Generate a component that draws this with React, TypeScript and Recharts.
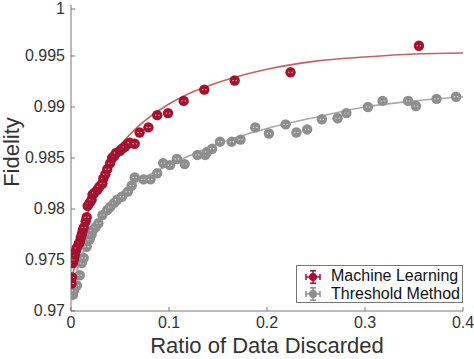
import React from 'react';
import {
  ComposedChart,
  Scatter,
  Line,
  XAxis,
  YAxis,
} from 'recharts';

// Machine Learning samples (ratio discarded, fidelity)
const mlRatio = [
  0.0005, 0.001, 0.002, 0.003, 0.004, 0.005, 0.006, 0.008, 0.009, 0.01, 0.011, 0.012, 0.013, 0.015, 0.016,
  0.017, 0.019, 0.021, 0.022, 0.024, 0.027, 0.029, 0.032, 0.033, 0.035, 0.037, 0.04, 0.042, 0.044, 0.046,
  0.05, 0.052, 0.055, 0.058, 0.06, 0.065, 0.07, 0.079, 0.088, 0.099, 0.115, 0.136, 0.167, 0.224, 0.355,
];
const mlFidelity = [
  0.9727, 0.9733, 0.9747, 0.9751, 0.9755, 0.9759, 0.9762, 0.9766, 0.9768, 0.9772, 0.9775, 0.9779, 0.9782, 0.9788, 0.9792,
  0.9803, 0.9806, 0.9809, 0.9814, 0.9816, 0.9819, 0.9822, 0.9825, 0.983, 0.9834, 0.9839, 0.9845, 0.985, 0.9852, 0.9855,
  0.9857, 0.9859, 0.9861, 0.9864, 0.9865, 0.9864, 0.9875, 0.988, 0.9892, 0.9894, 0.9906, 0.9917, 0.9926, 0.9934, 0.996,
];

// Threshold Method samples
const thRatio = [
  0.002, 0.003, 0.006, 0.009, 0.011, 0.013, 0.016, 0.019, 0.021, 0.022, 0.025, 0.028, 0.032, 0.037, 0.04, 0.044,
  0.047, 0.052, 0.058, 0.062, 0.065, 0.074, 0.081, 0.088, 0.094, 0.101, 0.108, 0.116, 0.129, 0.137, 0.139, 0.144,
  0.152, 0.164, 0.173, 0.188, 0.202, 0.219, 0.23, 0.241, 0.256, 0.272, 0.281, 0.303, 0.318, 0.344, 0.352, 0.373, 0.393,
];
const thFidelity = [
  0.9716, 0.972, 0.9725, 0.9735, 0.9747, 0.9752, 0.9763, 0.977, 0.9775, 0.9779, 0.9782, 0.9786, 0.9794, 0.9799, 0.9802, 0.9806,
  0.9809, 0.9812, 0.9817, 0.9823, 0.9831, 0.9829, 0.9829, 0.9835, 0.9845, 0.9843, 0.9849, 0.9844, 0.9853, 0.9853, 0.9856, 0.9859,
  0.9866, 0.9866, 0.9868, 0.988, 0.9874, 0.9883, 0.9875, 0.9878, 0.9888, 0.9889, 0.9894, 0.99, 0.9906, 0.9906, 0.9901, 0.9908, 0.991,
];

// fitted curves
const mlFitX = [0, 0.01, 0.02, 0.03, 0.04, 0.05, 0.06, 0.08, 0.1, 0.12, 0.15, 0.2, 0.25, 0.3, 0.35, 0.4];
const mlFitY = [0.9728, 0.977, 0.9805, 0.983, 0.9848, 0.9862, 0.9873, 0.989, 0.9903, 0.9913, 0.9924, 0.9937, 0.9945, 0.9949, 0.9952, 0.9953];
const thFitX = [0, 0.01, 0.02, 0.03, 0.05, 0.075, 0.1, 0.15, 0.2, 0.25, 0.3, 0.35, 0.4];
const thFitY = [0.9718, 0.9752, 0.9776, 0.9793, 0.9815, 0.9831, 0.9843, 0.9864, 0.9879, 0.989, 0.99, 0.9906, 0.991];

const xTicks = [0, 0.1, 0.2, 0.3, 0.4];
const yTicks = [0.97, 0.975, 0.98, 0.985, 0.99, 0.995, 1];

const RED = '#a3122f';
const GRAY = '#8e8e8e';
const RED_LINE = '#c8605e';
const GRAY_LINE = '#a9a9a9';
const AXIS = '#777';
const TEXT = '#333';
const FONT = '"Liberation Sans", Arial, sans-serif';

const zip = (xs: number[], ys: number[]) => xs.map((x, i) => ({ x, y: ys[i] }));
const mlData = zip(mlRatio, mlFidelity);
const thData = zip(thRatio, thFidelity);
const mlFit = zip(mlFitX, mlFitY);
const thFit = zip(thFitX, thFitY);

const fmt = (v: number) => String(+v.toFixed(3));

const Marker = (color: string) => (props: any) => {
  const { cx, cy } = props;
  if (cx == null || cy == null) return <g />;
  return (
    <g>
      <circle cx={cx} cy={cy} r={5.2} fill={color} />
      <circle cx={cx - 1.6} cy={cy} r={0.7} fill="#fff" opacity={0.7} />
      <circle cx={cx + 1.6} cy={cy} r={0.7} fill="#fff" opacity={0.7} />
    </g>
  );
};

const BottomTick = (props: any) => {
  const { x, y, payload } = props;
  const base = y - 6;
  return (
    <g>
      <line x1={x} x2={x} y1={base} y2={base - 4} stroke={AXIS} />
      <text x={x} y={y} dy={11} textAnchor="middle" fontSize={16} fill={TEXT} fontFamily={FONT}>
        {fmt(payload.value)}
      </text>
    </g>
  );
};

const LeftTick = (props: any) => {
  const { x, y, payload } = props;
  const base = x + 6;
  return (
    <g>
      <line x1={base} x2={base + 4} y1={y} y2={y} stroke={AXIS} />
      <text x={x} y={y} dy={5} textAnchor="end" fontSize={16} fill={TEXT} fontFamily={FONT}>
        {fmt(payload.value)}
      </text>
    </g>
  );
};

const TopTick = (props: any) => {
  const { x, y } = props;
  return <line x1={x} x2={x} y1={y} y2={y + 4} stroke={AXIS} />;
};

const RightTick = (props: any) => {
  const { x, y } = props;
  return <line x1={x} x2={x - 4} y1={y} y2={y} stroke={AXIS} />;
};

const LegendIcon = ({ color }: { color: string }) => (
  <svg width={18} height={14} style={{ verticalAlign: 'middle' }}>
    <line x1={2} x2={16} y1={7} y2={7} stroke={color} strokeWidth={1.5} />
    <line x1={9} x2={9} y1={0} y2={14} stroke={color} strokeWidth={1.5} />
    <line x1={2} x2={2} y1={4} y2={10} stroke={color} strokeWidth={1.5} />
    <line x1={16} x2={16} y1={4} y2={10} stroke={color} strokeWidth={1.5} />
    <line x1={6} x2={12} y1={0.8} y2={0.8} stroke={color} strokeWidth={1.5} />
    <line x1={6} x2={12} y1={13.2} y2={13.2} stroke={color} strokeWidth={1.5} />
    <circle cx={9} cy={7} r={4} fill={color} />
  </svg>
);

const legendItems = [
  { label: 'Machine Learning', color: RED },
  { label: 'Threshold Method', color: GRAY },
];

export default function App() {
  return (
    <div style={{ position: 'absolute', left: 0, top: 0, width: 474, height: 359, background: '#fff', overflow: 'hidden' }}>
      <ComposedChart width={474} height={359} margin={{ top: 5, right: 11, bottom: 0, left: 0 }}>
        <XAxis
          xAxisId="b"
          type="number"
          dataKey="x"
          domain={[0, 0.4]}
          ticks={xTicks}
          height={48}
          tickSize={0}
          tickMargin={6}
          tickLine={false}
          tick={<BottomTick />}
          stroke={AXIS}
          allowDataOverflow
        />
        <XAxis
          xAxisId="t"
          orientation="top"
          type="number"
          dataKey="x"
          domain={[0, 0.4]}
          ticks={xTicks}
          height={0}
          tickSize={0}
          tickMargin={0}
          tickLine={false}
          tick={<TopTick />}
          stroke={AXIS}
        />
        <YAxis
          yAxisId="l"
          type="number"
          dataKey="y"
          domain={[0.97, 1]}
          ticks={yTicks}
          width={71}
          tickSize={0}
          tickMargin={6}
          tickLine={false}
          tick={<LeftTick />}
          stroke={AXIS}
          allowDataOverflow
        />
        <YAxis
          yAxisId="r"
          orientation="right"
          type="number"
          dataKey="y"
          domain={[0.97, 1]}
          ticks={yTicks}
          width={0}
          tickSize={0}
          tickMargin={0}
          tickLine={false}
          tick={<RightTick />}
          stroke={AXIS}
        />
        <Line
          xAxisId="b"
          yAxisId="l"
          data={thFit}
          dataKey="y"
          type="monotone"
          stroke={GRAY_LINE}
          strokeWidth={1.6}
          dot={false}
          isAnimationActive={false}
        />
        <Line
          xAxisId="b"
          yAxisId="l"
          data={mlFit}
          dataKey="y"
          type="monotone"
          stroke={RED_LINE}
          strokeWidth={1.6}
          dot={false}
          isAnimationActive={false}
        />
        <Scatter
          xAxisId="b"
          yAxisId="l"
          name="Threshold Method"
          data={thData}
          shape={Marker(GRAY)}
          isAnimationActive={false}
        />
        <Scatter
          xAxisId="b"
          yAxisId="l"
          name="Machine Learning"
          data={mlData}
          shape={Marker(RED)}
          isAnimationActive={false}
        />
      </ComposedChart>

      {/* legend box, bottom right inside the axes */}
      <div
        style={{
          position: 'absolute',
          left: 296,
          top: 265,
          width: 167,
          height: 38,
          boxSizing: 'border-box',
          border: `1px solid ${AXIS}`,
          background: '#fff',
          padding: '1px 0 0 7px',
          fontFamily: FONT,
          fontSize: 16,
          color: '#111',
          lineHeight: '17.5px',
        }}
      >
        {legendItems.map(it => (
          <div key={it.label} style={{ whiteSpace: 'nowrap' }}>
            <LegendIcon color={it.color} />
            <span style={{ marginLeft: 9 }}>{it.label}</span>
          </div>
        ))}
      </div>

      <div
        style={{
          position: 'absolute',
          left: 71,
          width: 392,
          top: 336,
          textAlign: 'center',
          fontFamily: FONT,
          fontSize: 22,
          lineHeight: '20px',
          color: TEXT,
          whiteSpace: 'nowrap',
        }}
      >
        Ratio of Data Discarded
      </div>
      <div
        style={{
          position: 'absolute',
          left: 12,
          top: 152,
          transform: 'translate(-50%, -50%) rotate(-90deg)',
          fontFamily: FONT,
          fontSize: 22,
          lineHeight: '22px',
          color: TEXT,
          whiteSpace: 'nowrap',
        }}
      >
        Fidelity
      </div>
    </div>
  );
}
